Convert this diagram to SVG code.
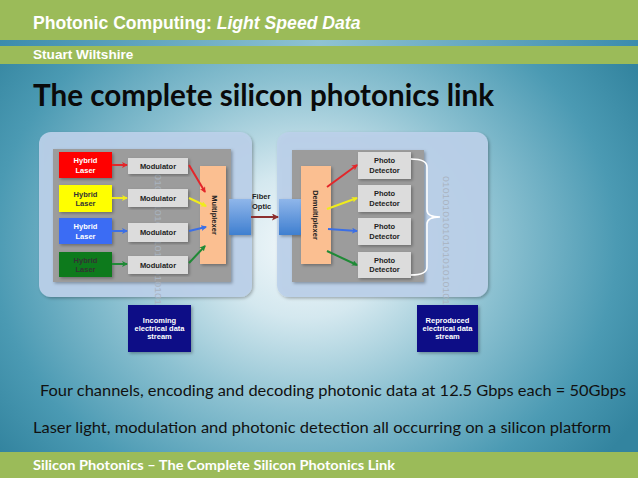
<svg xmlns="http://www.w3.org/2000/svg" width="638" height="478" viewBox="0 0 638 478">
<defs>
<radialGradient id="bg" gradientUnits="userSpaceOnUse" cx="305" cy="245" r="390" gradientTransform="translate(305 245) scale(1 0.85) translate(-305 -245)">
<stop offset="0" stop-color="#f4f9fb"/>
<stop offset="0.22" stop-color="#d4e8ef"/>
<stop offset="0.5" stop-color="#8cc1d1"/>
<stop offset="0.8" stop-color="#4b9ab3"/>
<stop offset="1" stop-color="#33849f"/>
</radialGradient>
<linearGradient id="stripe" x1="0" y1="0" x2="1" y2="0">
<stop offset="0" stop-color="#3b8cad"/>
<stop offset="0.5" stop-color="#8fc3d3"/>
<stop offset="1" stop-color="#3b8cad"/>
</linearGradient>
<linearGradient id="fiber" x1="0" y1="0" x2="0" y2="1">
<stop offset="0" stop-color="#8fb6ea"/>
<stop offset="1" stop-color="#3f7fd0"/>
</linearGradient>
<filter id="sh" x="-10%" y="-10%" width="125%" height="125%">
<feDropShadow dx="1.5" dy="1.5" stdDeviation="1.5" flood-color="#000" flood-opacity="0.3"/>
</filter>
<marker id="aR" markerWidth="6" markerHeight="6" refX="5" refY="3" orient="auto" markerUnits="userSpaceOnUse"><path d="M0,0 L6,3 L0,6 L1.5,3 Z" fill="#e3262a"/></marker>
<marker id="aY" markerWidth="6" markerHeight="6" refX="5" refY="3" orient="auto" markerUnits="userSpaceOnUse"><path d="M0,0 L6,3 L0,6 L1.5,3 Z" fill="#f0ec1c"/></marker>
<marker id="aB" markerWidth="6" markerHeight="6" refX="5" refY="3" orient="auto" markerUnits="userSpaceOnUse"><path d="M0,0 L6,3 L0,6 L1.5,3 Z" fill="#3b6fe6"/></marker>
<marker id="aG" markerWidth="6" markerHeight="6" refX="5" refY="3" orient="auto" markerUnits="userSpaceOnUse"><path d="M0,0 L6,3 L0,6 L1.5,3 Z" fill="#1f8a36"/></marker>
<marker id="aD" markerWidth="7" markerHeight="7" refX="6" refY="3.5" orient="auto" markerUnits="userSpaceOnUse"><path d="M0,0 L7,3.5 L0,7 L1.5,3.5 Z" fill="#8c2f2f"/></marker>
<style>
.hdr{font-family:"Liberation Sans",Arial,sans-serif;font-weight:bold;fill:#fff}
.lbl{font-family:"Liberation Sans",Arial,sans-serif;font-weight:bold;font-size:7.5px;text-anchor:middle}
.cal{font-family:"Lato","Open Sans",sans-serif}
.panel{fill:#bcd1ea;fill-opacity:0.92;filter:url(#sh)}
.inner{fill:#9c9c9c;filter:url(#sh)}
.box{fill:#dcdcdc;filter:url(#sh)}
.mux{fill:#fbbf91;filter:url(#sh)}
.bin{font-family:"Liberation Sans",Arial,sans-serif;font-size:9.5px;fill:#a9b3bf}
.ln{fill:none;stroke-width:2}
.nav{fill:#0b0b86;filter:url(#sh)}
</style>
</defs>
<rect width="638" height="478" fill="url(#bg)"/>
<rect x="0" y="0" width="638" height="40" fill="#9bbb59"/>
<rect x="0" y="40" width="638" height="6" fill="url(#stripe)"/>
<rect x="0" y="46" width="638" height="18" fill="#9bbb59"/>
<text class="hdr" x="33" y="29" font-size="17.6">Photonic Computing: <tspan font-style="italic">Light Speed Data</tspan></text>
<text class="hdr" x="33" y="59" font-size="13.6">Stuart Wiltshire</text>
<text class="cal" x="33" y="106" font-size="30" font-weight="bold" fill="#0a0a0a" textLength="461" lengthAdjust="spacingAndGlyphs">The complete silicon photonics link</text>

<g id="tx-panel">
<rect class="panel" x="39" y="132" width="213" height="165" rx="12"/>
<rect class="inner" x="53" y="149" width="178" height="133"/>
</g>
<g id="rx-panel">
<rect class="panel" x="277" y="132" width="211" height="165" rx="12"/>
<rect class="inner" x="292" y="150" width="132" height="132"/>
</g>
<text class="bin" transform="translate(155 174) rotate(90)" textLength="131" lengthAdjust="spacingAndGlyphs">0101010101010101010101</text>
<text class="bin" transform="translate(443 176) rotate(90)" textLength="129" lengthAdjust="spacingAndGlyphs">0101010101010101010101</text>

<g id="laser1"><rect x="59" y="152" width="53" height="26" fill="#ff0000" filter="url(#sh)"/><text class="lbl" fill="#fff" x="85.5" y="163">Hybrid</text><text class="lbl" fill="#fff" x="85.5" y="172.5">Laser</text></g>
<g id="laser2"><rect x="59" y="185" width="53" height="27" fill="#ffff00" filter="url(#sh)"/><text class="lbl" fill="#333" x="85.5" y="196.5">Hybrid</text><text class="lbl" fill="#333" x="85.5" y="206">Laser</text></g>
<g id="laser3"><rect x="59" y="218" width="53" height="26" fill="#3a6cf4" filter="url(#sh)"/><text class="lbl" fill="#fff" x="85.5" y="229">Hybrid</text><text class="lbl" fill="#fff" x="85.5" y="238.5">Laser</text></g>
<g id="laser4"><rect x="59" y="252" width="53" height="25" fill="#0a7a1e" filter="url(#sh)"/><text class="lbl" fill="#333" x="85.5" y="262.5">Hybrid</text><text class="lbl" fill="#333" x="85.5" y="272">Laser</text></g>

<g id="mod1"><rect class="box" x="128" y="158" width="60" height="16"/><text class="lbl" fill="#222" x="158" y="168.5">Modulator</text></g>
<g id="mod2"><rect class="box" x="128" y="189" width="60" height="18"/><text class="lbl" fill="#222" x="158" y="200.5">Modulator</text></g>
<g id="mod3"><rect class="box" x="128" y="223" width="60" height="19"/><text class="lbl" fill="#222" x="158" y="235">Modulator</text></g>
<g id="mod4"><rect class="box" x="128" y="256" width="60" height="18"/><text class="lbl" fill="#222" x="158" y="268">Modulator</text></g>

<g id="mux"><rect class="mux" x="200" y="166" width="26" height="98"/><text class="lbl" fill="#222" font-size="8px" transform="translate(212 215) rotate(90)">Multiplexer</text></g>
<g id="fiber-tx"><rect x="229" y="199" width="22" height="36" fill="url(#fiber)" filter="url(#sh)"/></g>
<g id="fiber-label"><text class="lbl" fill="#222" x="252" y="199" style="text-anchor:start">Fiber</text><text class="lbl" fill="#222" x="252" y="208.5" style="text-anchor:start">Optic</text></g>
<g id="fiber-rx"><rect x="279" y="199" width="22" height="36" fill="url(#fiber)" filter="url(#sh)"/></g>
<g id="demux"><rect class="mux" x="301" y="166" width="30" height="98"/><text class="lbl" fill="#222" font-size="8px" transform="translate(313 215) rotate(90)">Demultiplexer</text></g>

<g id="pd1"><rect class="box" x="358" y="152" width="53" height="27"/><text class="lbl" fill="#222" x="384.5" y="163">Photo</text><text class="lbl" fill="#222" x="384.5" y="172.5">Detector</text></g>
<g id="pd2"><rect class="box" x="358" y="185" width="53" height="27"/><text class="lbl" fill="#222" x="384.5" y="196">Photo</text><text class="lbl" fill="#222" x="384.5" y="205.5">Detector</text></g>
<g id="pd3"><rect class="box" x="358" y="218" width="53" height="27"/><text class="lbl" fill="#222" x="384.5" y="229">Photo</text><text class="lbl" fill="#222" x="384.5" y="238.5">Detector</text></g>
<g id="pd4"><rect class="box" x="358" y="252" width="53" height="26"/><text class="lbl" fill="#222" x="384.5" y="262.5">Photo</text><text class="lbl" fill="#222" x="384.5" y="272">Detector</text></g>

<g id="connectors">
<line class="ln" x1="112" y1="165" x2="127" y2="165" stroke="#e3262a" marker-end="url(#aR)"/>
<line class="ln" x1="112" y1="198" x2="127" y2="198" stroke="#f0ec1c" marker-end="url(#aY)"/>
<line class="ln" x1="112" y1="231" x2="127" y2="231" stroke="#3b6fe6" marker-end="url(#aB)"/>
<line class="ln" x1="112" y1="264" x2="127" y2="264" stroke="#1f8a36" marker-end="url(#aG)"/>
<line class="ln" x1="189" y1="165" x2="205" y2="192" stroke="#e3262a" marker-end="url(#aR)"/>
<line class="ln" x1="189" y1="198" x2="206" y2="206" stroke="#f0ec1c" marker-end="url(#aY)"/>
<line class="ln" x1="189" y1="231" x2="206" y2="227" stroke="#3b6fe6" marker-end="url(#aB)"/>
<line class="ln" x1="189" y1="263" x2="205" y2="246" stroke="#1f8a36" marker-end="url(#aG)"/>
<line class="ln" x1="251" y1="217" x2="278" y2="217" stroke="#8c2f2f" marker-end="url(#aD)"/>
<line class="ln" x1="327" y1="187" x2="357" y2="165" stroke="#e3262a" marker-end="url(#aR)"/>
<line class="ln" x1="327" y1="209" x2="357" y2="198" stroke="#f0ec1c" marker-end="url(#aY)"/>
<line class="ln" x1="328" y1="229" x2="357" y2="231" stroke="#3b6fe6" marker-end="url(#aB)"/>
<line class="ln" x1="327" y1="251" x2="357" y2="265" stroke="#1f8a36" marker-end="url(#aG)"/>
<path d="M411,159 Q427,159 427,167 L427,210 Q427,217 440,217 Q427,217 427,224 L427,267 Q427,275 411,275" fill="none" stroke="#fff" stroke-width="1.6"/>
</g>

<g id="incoming"><rect class="nav" x="128" y="305" width="63" height="47"/><text class="lbl" fill="#fff" x="159.5" y="323">Incoming</text><text class="lbl" fill="#fff" x="159.5" y="331">electrical data</text><text class="lbl" fill="#fff" x="159.5" y="339">stream</text></g>
<g id="reproduced"><rect class="nav" x="417" y="305" width="61" height="47"/><text class="lbl" fill="#fff" x="447.5" y="323">Reproduced</text><text class="lbl" fill="#fff" x="447.5" y="331">electrical data</text><text class="lbl" fill="#fff" x="447.5" y="339">stream</text></g>

<text class="cal" x="40" y="396" font-size="16" fill="#111" textLength="586" lengthAdjust="spacingAndGlyphs">Four channels, encoding and decoding photonic data at 12.5 Gbps each = 50Gbps</text>
<text class="cal" x="33" y="433" font-size="16" fill="#111" textLength="578" lengthAdjust="spacingAndGlyphs">Laser light, modulation and photonic detection all occurring on a silicon platform</text>
<rect x="0" y="452" width="638" height="26" fill="#9bbb59"/>
<text class="cal" x="33" y="470" font-size="13" font-weight="bold" fill="#fff" textLength="362" lengthAdjust="spacingAndGlyphs">Silicon Photonics – The Complete Silicon Photonics Link</text>
</svg>
